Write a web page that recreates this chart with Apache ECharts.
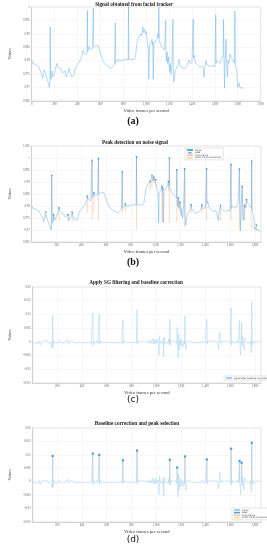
<!DOCTYPE html>
<html><head><meta charset="utf-8">
<script src="https://cdn.jsdelivr.net/npm/echarts@6/dist/echarts.min.js"></script>
<style>html,body{margin:0;padding:0;background:#fff}#c{width:267px;height:550px}</style>
</head><body><div id="c"></div>
<script>
// ---- data ----
const titles = ['Signal obtained from facial tracker','Peak detection on noise signal','Apply SG filtering and baseline correction','Baseline correction and peak selection'];
const captions = ['(a)','(b)','(c)','(d)'];
const xName = 'Video frames per second';
const yName = 'Values';
const rawSignal = [[0,0.9803],[10,0.9790],[22,0.9784],[35,0.9786],[48,0.9782],[60,0.9778],[75,0.9772],[88,0.9748],[97,0.9735],[108,0.9765],[115,0.9772],[122,0.9752],[134,0.9735],[145,0.9740],[156,0.9701],[160,0.9720],[162,0.9926],[165,0.9740],[170,0.9730],[177,0.9762],[185,0.9740],[196,0.9748],[208,0.9768],[220,0.9790],[230,0.9775],[237,0.9770],[250,0.9772],[258,0.9765],[270,0.9755],[280,0.9748],[294,0.9762],[300,0.9740],[310,0.9745],[320,0.9758],[327,0.9772],[335,0.9755],[342,0.9750],[352,0.9740],[360,0.9733],[370,0.9745],[380,0.9770],[392,0.9782],[400,0.9786],[415,0.9795],[427,0.9802],[440,0.9818],[449,0.9839],[456,0.9828],[468,0.9825],[476,0.9822],[484,0.9830],[487,0.9988],[490,0.9835],[497,0.9832],[502,0.9853],[510,0.9842],[520,0.9838],[530,0.9845],[536,0.9850],[539,0.9996],[542,0.9850],[550,0.9848],[560,0.9855],[570,0.9860],[580,0.9858],[589,0.9852],[600,0.9830],[610,0.9815],[622,0.9800],[637,0.9790],[652,0.9785],[669,0.9778],[683,0.9775],[696,0.9772],[710,0.9778],[723,0.9785],[729,0.9790],[731,0.9940],[734,0.9790],[744,0.9792],[756,0.9807],[763,0.9798],[775,0.9800],[790,0.9802],[805,0.9800],[817,0.9805],[830,0.9800],[843,0.9805],[846,1.0004],[849,0.9805],[857,0.9808],[870,0.9805],[884,0.9800],[895,0.9805],[906,0.9815],[912,0.9835],[919,0.9865],[928,0.9880],[938,0.9890],[948,0.9895],[956,0.9901],[962,0.9893],[971,0.9926],[978,0.9905],[986,0.9918],[993,0.9900],[1001,0.9908],[1007,0.9885],[1013,0.9865],[1020,0.9840],[1024,0.9731],[1028,0.9850],[1035,0.9862],[1042,0.9858],[1051,0.9880],[1055,0.9860],[1058,0.9871],[1062,0.9731],[1068,0.9860],[1075,0.9868],[1086,0.9875],[1095,0.9880],[1103,0.9901],[1108,0.9885],[1111,0.9999],[1114,0.9880],[1120,0.9868],[1130,0.9858],[1140,0.9850],[1150,0.9845],[1160,0.9840],[1168,0.9835],[1171,0.9950],[1174,0.9825],[1178,0.9800],[1183,0.9832],[1188,0.9790],[1192,0.9800],[1196,0.9814],[1200,0.9780],[1206,0.9760],[1210,0.9790],[1218,0.9750],[1225,0.9790],[1231,0.9790],[1234,0.9954],[1237,0.9780],[1242,0.9720],[1248,0.9740],[1255,0.9765],[1265,0.9772],[1276,0.9780],[1286,0.9804],[1295,0.9785],[1305,0.9780],[1315,0.9772],[1328,0.9778],[1342,0.9772],[1355,0.9780],[1365,0.9785],[1373,0.9803],[1382,0.9790],[1392,0.9788],[1400,0.9792],[1408,0.9798],[1411,0.9954],[1414,0.9810],[1420,0.9820],[1428,0.9800],[1436,0.9790],[1450,0.9785],[1463,0.9778],[1476,0.9780],[1490,0.9778],[1500,0.9770],[1506,0.9740],[1512,0.9775],[1523,0.9801],[1532,0.9785],[1545,0.9780],[1556,0.9778],[1568,0.9785],[1579,0.9782],[1590,0.9780],[1600,0.9778],[1605,0.9785],[1608,0.9971],[1611,0.9790],[1620,0.9800],[1630,0.9795],[1644,0.9790],[1655,0.9800],[1665,0.9812],[1672,0.9820],[1676,0.9953],[1680,0.9810],[1685,0.9697],[1690,0.9800],[1698,0.9880],[1703,0.9790],[1710,0.9740],[1716,0.9801],[1722,0.9790],[1733,0.9825],[1740,0.9815],[1750,0.9810],[1760,0.9800],[1768,0.9795],[1772,0.9790],[1775,0.9985],[1778,0.9780],[1786,0.9770],[1792,0.9760],[1799,0.9701],[1806,0.9710],[1813,0.9718],[1818,0.9700],[1826,0.9693],[1835,0.9698],[1845,0.9697]];
// peaks on raw signal: frame, value, prominence base, half width (frames)
const rawPeakFrames = [115,162,177,220,294,327,449,487,502,539,731,756,846,956,971,986,1001,1051,1058,1103,1111,1171,1183,1196,1234,1286,1373,1411,1523,1608,1676,1698,1716,1733,1775,1813];
const rawPeakValues = [0.9772,0.9926,0.9762,0.9790,0.9762,0.9772,0.9839,0.9988,0.9853,0.9996,0.9940,0.9807,1.0004,0.9901,0.9926,0.9918,0.9908,0.9880,0.9871,0.9901,0.9999,0.9950,0.9832,0.9814,0.9954,0.9804,0.9803,0.9954,0.9801,0.9971,0.9953,0.9880,0.9801,0.9825,0.9985,0.9718];
const rawPeakBases = [0.9748,0.9701,0.9735,0.9740,0.9733,0.9733,0.9772,0.9740,0.9772,0.9740,0.9772,0.9772,0.9701,0.9865,0.9880,0.9900,0.9885,0.9731,0.9731,0.9860,0.9731,0.9731,0.9790,0.9780,0.9710,0.9765,0.9772,0.9740,0.9740,0.9740,0.9697,0.9740,0.9740,0.9790,0.9701,0.9697];
const rawPeakWidths = [8,3,6,10,6,6,12,3,8,3,3,8,3,10,6,6,6,4,4,6,3,3,4,4,3,10,10,3,10,3,3,4,4,8,3,6];
const filtSignal = [[0,0.0000],[10,0.0006],[20,-0.0004],[30,0.0003],[40,-0.0006],[52,0.0004],[62,-0.0011],[72,0.0002],[85,-0.0005],[95,0.0004],[105,-0.0003],[115,0.0006],[125,-0.0004],[135,0.0002],[145,-0.0003],[155,0.0004],[159,-0.0022],[162,0.0096],[165,-0.0020],[170,0.0005],[180,-0.0004],[192,0.0003],[205,-0.0005],[215,0.0006],[225,-0.0003],[235,0.0002],[245,-0.0004],[255,0.0003],[265,-0.0002],[275,0.0004],[284,0.0010],[290,-0.0006],[300,0.0003],[312,-0.0004],[322,0.0005],[332,-0.0003],[342,0.0002],[355,-0.0004],[365,0.0003],[378,-0.0002],[390,0.0004],[402,-0.0003],[415,0.0002],[428,-0.0004],[440,0.0003],[452,-0.0002],[465,0.0004],[475,-0.0006],[484,-0.0010],[487,0.0105],[490,-0.0012],[495,0.0003],[502,0.0008],[508,-0.0005],[518,0.0004],[528,-0.0006],[536,-0.0008],[539,0.0100],[542,-0.0010],[548,0.0005],[558,-0.0003],[570,0.0002],[582,-0.0004],[595,0.0003],[608,-0.0002],[620,0.0004],[635,-0.0003],[650,0.0002],[665,-0.0004],[680,0.0003],[695,-0.0002],[710,0.0003],[722,-0.0004],[728,-0.0006],[731,0.0080],[734,-0.0007],[740,0.0004],[748,-0.0003],[756,0.0007],[765,-0.0004],[778,0.0003],[790,-0.0002],[802,0.0004],[815,-0.0003],[828,0.0002],[840,-0.0003],[843,-0.0008],[846,0.0116],[849,-0.0009],[856,0.0004],[868,-0.0003],[880,0.0002],[892,-0.0004],[905,0.0005],[915,0.0010],[925,-0.0003],[935,0.0006],[945,-0.0005],[955,0.0008],[962,-0.0006],[971,0.0012],[978,-0.0008],[986,0.0010],[993,-0.0009],[1001,0.0012],[1008,-0.0004],[1015,0.0006],[1021,0.0004],[1024,-0.0048],[1028,0.0020],[1035,-0.0005],[1042,0.0003],[1051,0.0010],[1055,-0.0010],[1058,0.0012],[1062,-0.0054],[1066,0.0018],[1075,-0.0004],[1085,0.0003],[1095,-0.0005],[1103,0.0010],[1108,-0.0010],[1111,0.0082],[1114,-0.0012],[1120,0.0004],[1130,-0.0003],[1140,0.0002],[1150,-0.0004],[1160,0.0003],[1168,-0.0006],[1171,0.0053],[1174,-0.0010],[1178,-0.0058],[1183,0.0028],[1188,-0.0030],[1196,0.0012],[1200,-0.0015],[1206,0.0005],[1212,-0.0004],[1218,-0.0020],[1225,0.0004],[1231,-0.0008],[1234,0.0094],[1237,-0.0010],[1240,-0.0030],[1246,-0.0005],[1255,0.0004],[1265,-0.0003],[1276,0.0002],[1286,0.0006],[1295,-0.0003],[1305,0.0002],[1318,-0.0004],[1330,0.0003],[1342,-0.0002],[1355,0.0004],[1365,-0.0003],[1373,0.0005],[1382,-0.0004],[1392,0.0003],[1400,-0.0002],[1408,-0.0006],[1411,0.0083],[1414,-0.0009],[1420,0.0004],[1430,-0.0003],[1442,0.0002],[1455,-0.0004],[1468,0.0003],[1480,-0.0002],[1490,0.0004],[1500,-0.0006],[1506,-0.0027],[1515,0.0036],[1523,-0.0005],[1532,0.0003],[1545,-0.0004],[1556,0.0002],[1568,-0.0003],[1580,0.0004],[1592,-0.0002],[1600,-0.0005],[1605,-0.0010],[1608,0.0123],[1611,-0.0012],[1616,0.0005],[1625,-0.0003],[1635,0.0004],[1645,-0.0004],[1655,0.0006],[1665,-0.0004],[1672,-0.0008],[1676,0.0077],[1679,-0.0010],[1685,-0.0048],[1690,0.0010],[1693,0.0071],[1696,-0.0015],[1700,0.0020],[1706,-0.0005],[1712,-0.0030],[1718,0.0015],[1724,0.0008],[1733,0.0012],[1740,-0.0004],[1750,0.0003],[1758,-0.0005],[1766,0.0004],[1772,-0.0040],[1775,0.0145],[1778,-0.0012],[1785,0.0004],[1795,-0.0006],[1805,0.0003],[1815,-0.0004],[1825,0.0002],[1835,-0.0003],[1845,0.0001]];
const filtPeakFrames = [162,487,539,731,846,1111,1171,1234,1411,1608,1676,1693,1775];
const filtPeakValues = [0.0096,0.0105,0.0100,0.0080,0.0116,0.0082,0.0053,0.0094,0.0083,0.0123,0.0077,0.0071,0.0145];
const filtPeakBases = [0,0,0,0,0,0,0,0,0,0,0,0,0];
const filtPeakWidths = [2,2,2,2,2,2,2,2,2,2,2,2,2];
const xTicksA = {min:0, max:2000, interval:200};
const xTicksB = {min:0, max:1850, interval:200};
const yTicksA = {min:0.965, max:1.0, interval:0.005};
const yTicksB = {min:0.965, max:1.005, interval:0.005};
const yTicksC = {min:-0.015, max:0.02, interval:0.005};

// ---- styling / layout ----
const SERIF = 'Liberation Serif';
const grids = [
  {left:14, top:7, width:248, height:94},
  {left:14, top:146, width:247, height:96},
  {left:14, top:287, width:247, height:96},
  {left:14, top:428, width:247, height:94}
];
const titleY = [5, 143, 283, 424];
const titleX = [134, 135, 136, 137];
const captionY = [121, 262, 400, 540];
const blue = '#5aabe5', lightBlue = '#a4d1f1', peakBlue = '#2a86d4', orange = '#f7c0a2', yellow = '#f3dc9a';

function fmt(v){ return String(parseFloat(v.toFixed(4))); }
function mkX(i, t, hideEnds){
  return {gridIndex:i, type:'value', min:t.min, max:t.max, interval:t.interval,
    name: xName, nameLocation:'middle', nameGap:7,
    nameTextStyle:{fontFamily:SERIF, fontSize:4.6, color:'#333'},
    axisLine:{show:true, onZero:false, lineStyle:{color:'#b5b5b5', width:0.5}},
    axisTick:{show:false},
    axisLabel:{fontFamily:SERIF, fontSize:3, color:'#666', margin:2, showMinLabel:!hideEnds, showMaxLabel:!hideEnds},
    splitLine:{show:true, lineStyle:{color:'#efefef', width:0.5}}};
}
function mkY(i, t){
  return {gridIndex:i, type:'value', min:t.min, max:t.max, interval:t.interval,
    name: yName, nameLocation:'middle', nameGap:10, nameRotate:90,
    nameTextStyle:{fontFamily:SERIF, fontSize:4.2, color:'#333'},
    axisLine:{show:true, lineStyle:{color:'#b5b5b5', width:0.5}},
    axisTick:{show:false},
    axisLabel:{fontFamily:SERIF, fontSize:3, color:'#666', margin:2, formatter:fmt},
    splitLine:{show:true, lineStyle:{color:'#efefef', width:0.5}}};
}
function vlines(frames, tops, bases){ return frames.map((f,i)=>[f, tops[i], bases[i]]); }
function hlines(frames, tops, bases, widths){ return frames.map((f,i)=>[f-widths[i], f+widths[i], (tops[i]+bases[i])/2]); }
function vRender(color){
  return function(params, api){
    const p1 = api.coord([api.value(0), api.value(1)]);
    const p2 = api.coord([api.value(0), api.value(2)]);
    return {type:'line', shape:{x1:p1[0], y1:p1[1], x2:p2[0], y2:p2[1]}, style:{stroke:color, lineWidth:0.6}};
  };
}
function hRender(color){
  return function(params, api){
    const p1 = api.coord([api.value(0), api.value(2)]);
    const p2 = api.coord([api.value(1), api.value(2)]);
    return {type:'line', shape:{x1:p1[0], y1:p1[1], x2:p2[0], y2:p2[1]}, style:{stroke:color, lineWidth:0.6}};
  };
}
const lineBase = {type:'line', showSymbol:false, symbol:'none', animation:false};

const series = [
  Object.assign({}, lineBase, {name:'raw', xAxisIndex:0, yAxisIndex:0, data:rawSignal, lineStyle:{color:blue, width:0.45}, itemStyle:{color:blue}}),
  {name:'prominence', type:'custom', xAxisIndex:1, yAxisIndex:1, renderItem:vRender(orange), encode:{x:0, y:[1,2]}, data:vlines(rawPeakFrames, rawPeakValues, rawPeakBases), itemStyle:{color:orange}, clip:true, z:1},
  {name:'width (half-prominence)', type:'custom', xAxisIndex:1, yAxisIndex:1, renderItem:hRender(yellow), encode:{x:[0,1], y:2}, data:hlines(rawPeakFrames, rawPeakValues, rawPeakBases, rawPeakWidths), itemStyle:{color:yellow}, clip:true, z:1},
  Object.assign({}, lineBase, {name:'signal', xAxisIndex:1, yAxisIndex:1, data:rawSignal, lineStyle:{color:blue, width:0.45}, itemStyle:{color:blue}, z:2}),
  {name:'peak', type:'scatter', xAxisIndex:1, yAxisIndex:1, symbol:'triangle', symbolRotate:180, symbolSize:2.2, data:rawPeakFrames.map((f,i)=>[f, rawPeakValues[i]]), itemStyle:{color:peakBlue}, z:3},
  Object.assign({}, lineBase, {name:'signal after baseline correction', xAxisIndex:2, yAxisIndex:2, data:filtSignal, lineStyle:{color:lightBlue, width:0.5}, itemStyle:{color:lightBlue}}),
  {name:'prominence ', type:'custom', xAxisIndex:3, yAxisIndex:3, renderItem:vRender('#cfc2bb'), encode:{x:0, y:[1,2]}, data:vlines(filtPeakFrames, filtPeakValues, filtPeakBases), itemStyle:{color:orange}, clip:true, z:1},
  {name:'width (half-prominence) ', type:'custom', xAxisIndex:3, yAxisIndex:3, renderItem:hRender(yellow), encode:{x:[0,1], y:2}, data:hlines(filtPeakFrames, filtPeakValues, filtPeakBases, filtPeakWidths), itemStyle:{color:yellow}, clip:true, z:1},
  Object.assign({}, lineBase, {name:'signal ', xAxisIndex:3, yAxisIndex:3, data:filtSignal, lineStyle:{color:lightBlue, width:0.5}, itemStyle:{color:lightBlue}, z:2}),
  {name:'peak ', type:'scatter', xAxisIndex:3, yAxisIndex:3, symbol:'rect', symbolSize:2.2, data:filtPeakFrames.map((f,i)=>[f, filtPeakValues[i]]), itemStyle:{color:peakBlue}, z:3}
];

const legendBase = {orient:'vertical', itemWidth:6, itemHeight:1.6, itemGap:0.6, padding:[1,2,1,1],
  backgroundColor:'#fff', borderColor:'#bbb', borderWidth:0.4, borderRadius:0,
  textStyle:{fontFamily:'DejaVu Sans', fontSize:2.2, color:'#444', padding:[0,0,0,-3]}, selectedMode:false};

const option = {
  animation:false,
  grid: grids.map(g=>Object.assign({show:true, borderColor:'#c4c4c4', borderWidth:0.5, backgroundColor:'#fff'}, g)),
  xAxis:[mkX(0, xTicksA, false), mkX(1, xTicksB, true), mkX(2, xTicksB, true), mkX(3, xTicksB, true)],
  yAxis:[mkY(0, yTicksA), mkY(1, yTicksB), mkY(2, yTicksC), mkY(3, yTicksC)],
  legend:[
    Object.assign({}, legendBase, {left:185, top:148, data:['signal','peak','prominence','width (half-prominence)']}),
    Object.assign({}, legendBase, {left:224, top:376, data:['signal after baseline correction']}),
    Object.assign({}, legendBase, {left:232, top:508, data:['signal ','peak ','prominence ','width (half-prominence) ']})
  ],
  series: series,
  graphic: titles.map((t,i)=>({type:'text', x:titleX[i], y:titleY[i], style:{text:t, fontFamily:SERIF, fontWeight:'bold', fontSize:5.2, fill:'#222', textAlign:'center', textVerticalAlign:'middle'}}))
    .concat(captions.map((c,i)=>({type:'text', x:133, y:captionY[i], style:{text:c, fontFamily: i<2 ? SERIF : 'DejaVu Sans', fontWeight: i<2 ? 'bold' : 'normal', fontSize: i<2 ? 10 : 9, fill:'#111', textAlign:'center', textVerticalAlign:'middle'}})))
};
const chart = echarts.init(document.getElementById('c'), null, {renderer:'canvas'});
chart.setOption(option);
</script></body></html>
